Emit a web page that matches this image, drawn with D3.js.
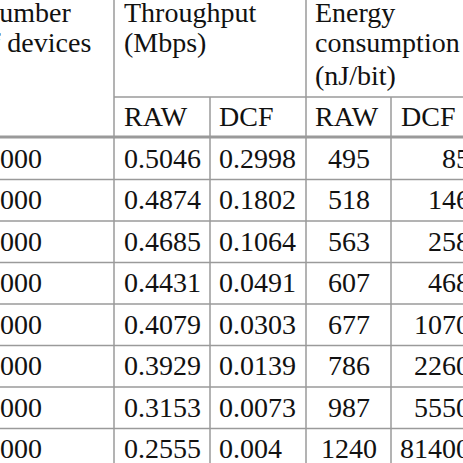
<!DOCTYPE html>
<html><head><meta charset="utf-8">
<script src="https://cdn.jsdelivr.net/npm/d3@7"></script>
<style>body{margin:0;background:#fff}text{font-family:"Liberation Serif",serif;font-size:28px;fill:#111}</style>
</head><body><svg id="c" width="463" height="463"></svg>
<script>
const devices = ['1000', '2000', '3000', '4000', '5000', '6000', '7000', '8000']
const rawThroughput = ['0.5046', '0.4874', '0.4685', '0.4431', '0.4079', '0.3929', '0.3153', '0.2555']
const dcfThroughput = ['0.2998', '0.1802', '0.1064', '0.0491', '0.0303', '0.0139', '0.0073', '0.004']
const rawEnergy = ['495', '518', '563', '607', '677', '786', '987', '1240']
const dcfEnergy = ['85', '146', '258', '468', '1070', '2260', '5550', '81400']

const svg = d3.select('#c')
const stroke = '#9a9a9a'
const y = d3.scaleBand().domain(d3.range(devices.length)).range([138, 470])
const cols = [114, 210, 306, 391]

// vertical rules
cols.forEach((x, i) => {
  svg.append('line').attr('x1', x).attr('x2', x)
    .attr('y1', i === 1 || i === 3 ? 97 : 0).attr('y2', 463)
    .attr('stroke', stroke).attr('stroke-width', 1.5)
})
svg.append('line').attr('x1', 114).attr('x2', 463).attr('y1', 97).attr('y2', 97)
  .attr('stroke', stroke).attr('stroke-width', 1.5)
svg.append('line').attr('x1', 0).attr('x2', 463).attr('y1', 137).attr('y2', 137)
  .attr('stroke', stroke).attr('stroke-width', 3)
d3.range(1, devices.length).forEach(i => {
  svg.append('line').attr('x1', 0).attr('x2', 463).attr('y1', y(i)).attr('y2', y(i))
    .attr('stroke', stroke).attr('stroke-width', 1.5)
})

const txt = (x, yy, s, anchor = 'start') =>
  svg.append('text').attr('x', x).attr('y', yy).attr('text-anchor', anchor).text(s)

txt(-21, 22, 'Number')
txt(-23, 52, 'of devices')
txt(124, 22, 'Throughput')
txt(124, 52, '(Mbps)')
txt(315, 22, 'Energy')
txt(315, 52, 'consumption')
txt(315, 85, '(nJ/bit)')
txt(124, 126, 'RAW'); txt(219, 126, 'DCF')
txt(315, 126, 'RAW'); txt(401, 126, 'DCF')

devices.forEach((d, i) => {
  const b = y(i) + y.bandwidth() / 2 + 9
  txt(-14, b, d)
  txt(124, b, rawThroughput[i])
  txt(219, b, dcfThroughput[i])
  txt(349, b, rawEnergy[i], 'middle')
  txt(470, b, dcfEnergy[i], 'end')
})
</script></body></html>
